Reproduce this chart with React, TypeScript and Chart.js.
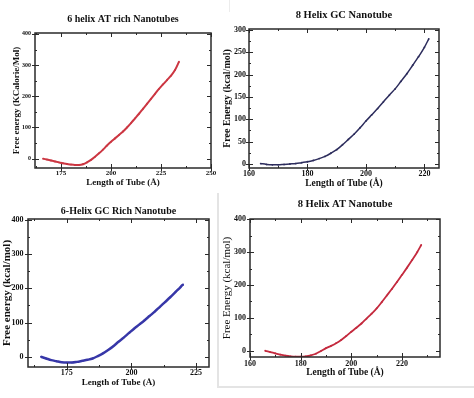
import React, { useEffect, useRef } from "react";
import { Chart, registerables } from "chart.js";

Chart.register(...registerables);

const W = 474;
const H = 398;
const SERIF = "'Liberation Serif', 'DejaVu Serif', 'Times New Roman', serif";
const X_TITLE = "Length of Tube (Å)";

// ---- Panel 1: 6 helix AT rich ----
const AT6_TITLE = "6 helix AT rich Nanotubes";
const AT6_Y_TITLE = "Free energy (KCalorie/Mol)";
const AT6_LENGTH = [166, 168, 170, 172, 174, 176, 178, 180, 182, 184, 186, 188, 190, 192, 194, 196, 198, 200, 202, 204, 206, 208, 210, 212, 214, 216, 218, 220, 222, 224, 226, 228, 230, 232, 234];
const AT6_ENERGY = [0, -3, -6, -9, -12, -15, -17, -19, -20, -20, -18, -12, -4, 6, 17, 29, 42, 54, 65, 76, 87, 100, 114, 129, 144, 160, 176, 192, 208, 224, 238, 252, 266, 284, 311];
const AT6_X_TICKS = [175, 200, 225, 250];
const AT6_Y_TICKS = [0, 100, 200, 300, 400];

// ---- Panel 2: 8 Helix GC ----
const GC8_TITLE = "8 Helix GC Nanotube";
const GC8_Y_TITLE = "Free Energy (kcal/mol)";
const GC8_LENGTH = [164, 166, 168, 170, 172, 174, 176, 178, 180, 182, 184, 186, 188, 190, 192, 194, 196, 198, 200, 202, 204, 206, 208, 210, 212, 214, 216, 218, 220, 221.5];
const GC8_ENERGY = [1, -1, -2, -2, -1, 0, 1, 3, 5, 8, 12, 17, 24, 32, 43, 55, 67, 81, 96, 110, 124, 139, 154, 168, 185, 202, 221, 240, 261, 280];
const GC8_X_TICKS = [160, 180, 200, 220];
const GC8_Y_TICKS = [0, 50, 100, 150, 200, 250, 300];

// ---- Panel 3: 6-Helix GC Rich ----
const GC6_TITLE = "6-Helix GC Rich Nanotube";
const GC6_Y_TITLE = "Free energy (kcal/mol)";
const GC6_LENGTH = [165, 167, 169, 171, 173, 175, 177, 179, 181, 183, 185, 187, 189, 191, 193, 195, 197, 199, 201, 203, 205, 207, 209, 211, 213, 215, 217, 219, 220];
const GC6_ENERGY = [0, -5, -10, -13, -16, -17, -17, -15, -12, -9, -5, 2, 10, 20, 31, 44, 56, 69, 82, 94, 106, 119, 132, 146, 160, 174, 189, 204, 212];
const GC6_X_TICKS = [175, 200, 225];
const GC6_Y_TICKS = [0, 100, 200, 300, 400];

// ---- Panel 4: 8 Helix AT ----
const AT8_TITLE = "8 Helix AT Nanotube";
const AT8_Y_TITLE = "Free Energy (kcal/mol)";
const AT8_LENGTH = [166, 168, 170, 172, 174, 176, 178, 180, 182, 184, 186, 188, 190, 192, 194, 196, 198, 200, 202, 204, 206, 208, 210, 212, 214, 216, 218, 220, 222, 224, 226, 227.6];
const AT8_ENERGY = [0, -4, -8, -12, -15, -17, -18, -18, -17, -14, -9, -1, 8, 15, 23, 33, 45, 58, 70, 83, 98, 113, 129, 148, 168, 188, 209, 231, 253, 276, 300, 322];
const AT8_X_TICKS = [160, 180, 200, 220];
const AT8_Y_TICKS = [0, 100, 200, 300, 400];

type Panel = {
  title: string;
  yTitle: string;
  xs: number[];
  ys: number[];
  xTicks: number[];
  yTicks: number[];
  xMin: number; xMax: number; yMin: number; yMax: number;
  color: string;
  lineWidth: number;
  area: { l: number; t: number; r: number; b: number };
  titleY: number; titleSize: number;
  xTitleY: number; xTitleSize: number;
  yTitleX: number; yTitleSize: number; yTitleWeight: string;
  xTickPad: number; yTickPad: number;
  xTickSize: number; yTickSize: number;
};

const PANELS: Panel[] = [
  {
    title: AT6_TITLE, yTitle: AT6_Y_TITLE, xs: AT6_LENGTH, ys: AT6_ENERGY,
    xTicks: AT6_X_TICKS, yTicks: AT6_Y_TICKS,
    xMin: 162, xMax: 250, yMin: -30, yMax: 403,
    color: "#cc3642", lineWidth: 2,
    area: { l: 35, t: 33, r: 211, b: 168 },
    titleY: 19, titleSize: 10,
    xTitleY: 183, xTitleSize: 9,
    yTitleX: 17, yTitleSize: 9, yTitleWeight: "bold",
    xTickPad: 1.5, yTickPad: 4,
    xTickSize: 7, yTickSize: 6,
  },
  {
    title: GC8_TITLE, yTitle: GC8_Y_TITLE, xs: GC8_LENGTH, ys: GC8_ENERGY,
    xTicks: GC8_X_TICKS, yTicks: GC8_Y_TICKS,
    xMin: 160, xMax: 225, yMin: -9, yMax: 302,
    color: "#2c2c5c", lineWidth: 1.5,
    area: { l: 249, t: 29, r: 439, b: 168 },
    titleY: 15, titleSize: 10.5,
    xTitleY: 184, xTitleSize: 9.5,
    yTitleX: 227, yTitleSize: 10, yTitleWeight: "bold",
    xTickPad: 1.5, yTickPad: 3,
    xTickSize: 8, yTickSize: 8,
  },
  {
    title: GC6_TITLE, yTitle: GC6_Y_TITLE, xs: GC6_LENGTH, ys: GC6_ENERGY,
    xTicks: GC6_X_TICKS, yTicks: GC6_Y_TICKS,
    xMin: 160, xMax: 230, yMin: -30, yMax: 403,
    color: "#3737a8", lineWidth: 2.5,
    area: { l: 28, t: 219, r: 209, b: 367 },
    titleY: 211.5, titleSize: 10,
    xTitleY: 383, xTitleSize: 9,
    yTitleX: 7, yTitleSize: 11, yTitleWeight: "bold",
    xTickPad: 1.5, yTickPad: 4.5,
    xTickSize: 8, yTickSize: 8,
  },
  {
    title: AT8_TITLE, yTitle: AT8_Y_TITLE, xs: AT8_LENGTH, ys: AT8_ENERGY,
    xTicks: AT8_X_TICKS, yTicks: AT8_Y_TICKS,
    xMin: 160, xMax: 235, yMin: -19, yMax: 401,
    color: "#c42a3e", lineWidth: 1.8,
    area: { l: 250, t: 219, r: 440, b: 357 },
    titleY: 204, titleSize: 10.5,
    xTitleY: 373, xTitleSize: 9.5,
    yTitleX: 227, yTitleSize: 11, yTitleWeight: "normal",
    xTickPad: 2.5, yTickPad: 4,
    xTickSize: 8, yTickSize: 8,
  },
];

const frameTicks = {
  id: "frameTicks",
  afterDatasetsDraw(chart: any) {
    const { ctx, chartArea: a, scales } = chart;
    const xs = scales.x;
    const ys = scales.y;
    const xv: number[] = xs.ticks.map((t: any) => t.value);
    const yv: number[] = ys.ticks.map((t: any) => t.value);
    const minors = (v: number[], min: number, max: number) => {
      const out: number[] = [];
      const step = v[1] - v[0];
      for (let m = v[0] - step * 1.5; m <= max + 1e-9; m += step) {
        if (m >= min && m <= max) out.push(m);
      }
      return out;
    };
    ctx.save();
    ctx.strokeStyle = "#2a2a2a";
    ctx.lineWidth = 1;
    ctx.beginPath();
    const MAJ = 4, MIN = 2, OUT = 3;
    for (const v of xv) {
      if (v < xs.min || v > xs.max) continue;
      const p = Math.round(xs.getPixelForValue(v)) + 0.5;
      ctx.moveTo(p, a.bottom + OUT); ctx.lineTo(p, a.bottom - MAJ);
      ctx.moveTo(p, a.top); ctx.lineTo(p, a.top + MAJ);
    }
    for (const v of minors(xv, xs.min, xs.max)) {
      const p = Math.round(xs.getPixelForValue(v)) + 0.5;
      ctx.moveTo(p, a.bottom); ctx.lineTo(p, a.bottom - MIN);
      ctx.moveTo(p, a.top); ctx.lineTo(p, a.top + MIN);
    }
    for (const v of yv) {
      if (v < ys.min || v > ys.max) continue;
      const p = Math.round(ys.getPixelForValue(v)) + 0.5;
      ctx.moveTo(a.left - OUT, p); ctx.lineTo(a.left + MAJ, p);
      ctx.moveTo(a.right, p); ctx.lineTo(a.right - MAJ, p);
    }
    for (const v of minors(yv, ys.min, ys.max)) {
      const p = Math.round(ys.getPixelForValue(v)) + 0.5;
      ctx.moveTo(a.left, p); ctx.lineTo(a.left + MIN, p);
      ctx.moveTo(a.right, p); ctx.lineTo(a.right - MIN, p);
    }
    ctx.stroke();
    ctx.lineWidth = 1.5;
    ctx.strokeRect(a.left, a.top, a.right - a.left, a.bottom - a.top);
    ctx.restore();
  },
};

function PanelChart({ p }: { p: Panel }) {
  const ref = useRef<HTMLCanvasElement | null>(null);
  useEffect(() => {
    if (!ref.current) return;
    const { area } = p;
    const padTop = p.titleY - p.titleSize / 2;
    const titlePadBottom = area.t - padTop - p.titleSize;
    const padBottom = H - p.xTitleY - p.xTitleSize / 2;
    const xH = p.xTitleY + p.xTitleSize / 2 - area.b;
    const padLeft = p.yTitleX - p.yTitleSize / 2;
    const yW = area.l - padLeft;
    const padRight = W - area.r;
    const chart = new Chart(ref.current, {
      type: "line",
      data: {
        datasets: [
          {
            data: p.xs.map((x, i) => ({ x, y: p.ys[i] })),
            borderColor: p.color,
            backgroundColor: p.color,
            borderWidth: p.lineWidth,
            pointRadius: 0.9,
            pointBorderWidth: 0,
            cubicInterpolationMode: "monotone",
            fill: false,
          },
        ],
      },
      plugins: [frameTicks],
      options: {
        responsive: false,
        animation: false,
        events: [],
        layout: { padding: { top: padTop, bottom: padBottom, left: padLeft, right: padRight } },
        plugins: {
          legend: { display: false },
          tooltip: { enabled: false },
          title: {
            display: true,
            text: p.title,
            fullSize: false,
            color: "#111",
            font: { family: SERIF, size: p.titleSize, weight: "bold", lineHeight: 1 },
            padding: { top: 0, bottom: titlePadBottom },
          },
        },
        scales: {
          x: {
            type: "linear",
            min: p.xMin,
            max: p.xMax,
            grid: { display: false, drawTicks: false },
            border: { display: false },
            ticks: {
              font: { family: SERIF, size: p.xTickSize, weight: "bold", lineHeight: 1 },
              color: "#111", padding: p.xTickPad, autoSkip: false, maxRotation: 0, minRotation: 0,
            },
            afterBuildTicks: (s: any) => { s.ticks = p.xTicks.map((v) => ({ value: v })); },
            afterFit: (s: any) => { s.height = xH; },
            title: {
              display: true,
              text: X_TITLE,
              color: "#111",
              font: { family: SERIF, size: p.xTitleSize, weight: "bold", lineHeight: 1 },
              padding: 0,
            },
          },
          y: {
            type: "linear",
            min: p.yMin,
            max: p.yMax,
            grid: { display: false, drawTicks: false },
            border: { display: false },
            ticks: {
              font: { family: SERIF, size: p.yTickSize, weight: "bold", lineHeight: 1 },
              color: "#111", padding: p.yTickPad, autoSkip: false,
            },
            afterBuildTicks: (s: any) => { s.ticks = p.yTicks.map((v) => ({ value: v })); },
            afterFit: (s: any) => { s.width = yW; },
            title: {
              display: true,
              text: p.yTitle,
              color: "#111",
              font: { family: SERIF, size: p.yTitleSize, weight: p.yTitleWeight as any, lineHeight: 1 },
              padding: 0,
            },
          },
        },
      } as any,
    } as any);
    return () => chart.destroy();
  }, [p]);
  return (
    <canvas
      ref={ref}
      width={W}
      height={H}
      style={{ position: "absolute", left: 0, top: 0, width: W, height: H }}
    />
  );
}

export default function App() {
  return (
    <div style={{ position: "absolute", left: 0, top: 0, width: W, height: H, background: "#fff", overflow: "hidden" }}>
      <div
        style={{
          position: "absolute",
          left: 217,
          top: 193,
          width: 257,
          height: 193,
          borderLeft: "2px solid #e4e4e4",
          borderBottom: "2px solid #e4e4e4",
        }}
      />
      <div style={{ position: "absolute", left: 229, top: 0, width: 0, height: 12, borderLeft: "1px solid #ececec" }} />
      {PANELS.map((p, i) => (
        <PanelChart key={i} p={p} />
      ))}
    </div>
  );
}
